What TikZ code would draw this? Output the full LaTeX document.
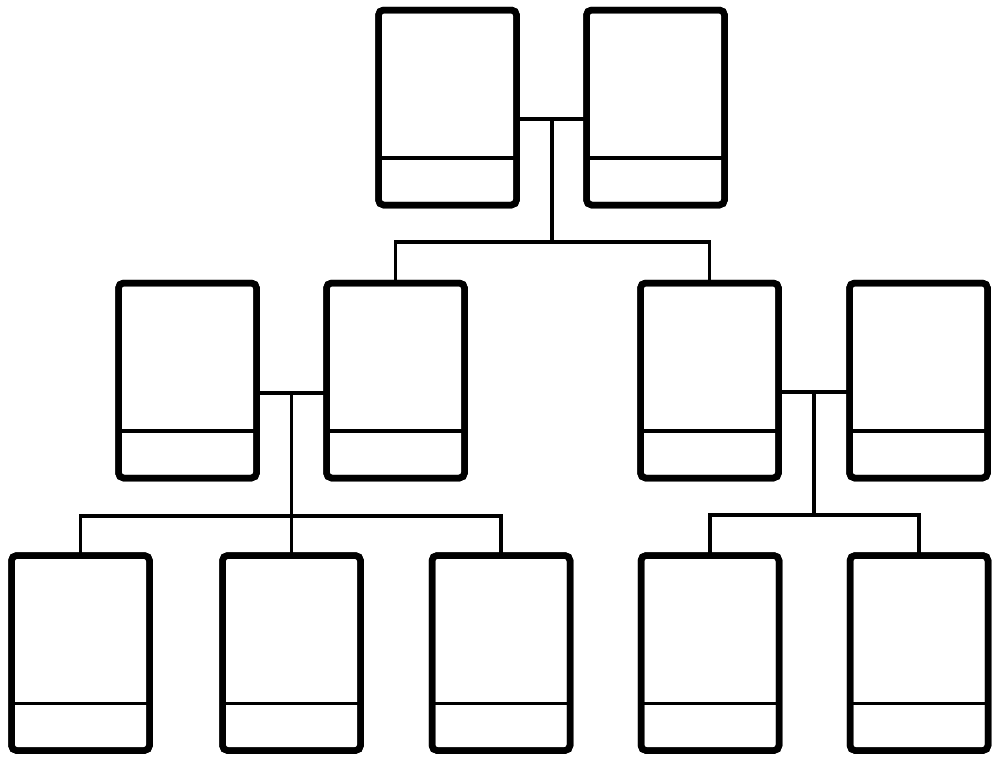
\documentclass[tikz,border=0pt]{standalone}
\begin{document}
\begin{tikzpicture}[x=1pt,y=-1pt,
  card/.style={draw=black, fill=white, line width=6.5pt, rounded corners=5pt,
    rectangle, minimum width=138pt, minimum height=195pt, inner sep=0pt, outer sep=0pt},
  link/.style={draw=black, line width=3.5pt},
  divider/.style={draw=black, line width=3.5pt}]
\useasboundingbox (0,0) rectangle (1000,761);
% top row
\node[card] (t1) at (447.5,107.5) {};
\node[card] (t2) at (655.5,107.5) {};
% middle row
\node[card] (m1) at (187.5,380.5) {};
\node[card] (m2) at (395.5,380.5) {};
\node[card] (m3) at (709.5,380.5) {};
\node[card] (m4) at (918.5,380.5) {};
% bottom row
\node[card] (b1) at (80.5,653) {};
\node[card] (b2) at (291.5,653) {};
\node[card] (b3) at (501,653) {};
\node[card] (b4) at (710,653) {};
\node[card] (b5) at (919,653) {};
% dividers
\foreach \n in {t1,t2,m1,m2,m3,m4,b1,b2,b3,b4,b5}{
  \draw[divider] ([yshift=47pt]\n.south west) -- ([yshift=47pt]\n.south east);
}
% connectors top
\coordinate (j1) at (552,119);
\coordinate (bus1) at (552,242);
\draw[link] (t1.east |- j1) -- (t2.west |- j1);
\draw[link] (j1) -- (bus1);
\draw[link] (m2.north) |- (bus1) -| (m3.north);
% connectors middle left
\coordinate (j2) at (291.5,393);
\coordinate (bus2) at (291.5,516);
\draw[link] (m1.east |- j2) -- (m2.west |- j2);
\draw[link] (j2) -- (b2.north);
\draw[link] (b1.north) |- (bus2) -| (b3.north);
% connectors middle right
\coordinate (j3) at (814,392);
\coordinate (bus3) at (814,515);
\draw[link] (m3.east |- j3) -- (m4.west |- j3);
\draw[link] (j3) -- (bus3);
\draw[link] (b4.north) |- (bus3) -| (b5.north);
% redraw cards on top of connectors
\foreach \n in {t1,t2,m1,m2,m3,m4,b1,b2,b3,b4,b5}{
  \draw[line width=6.5pt, rounded corners=5pt] (\n.south west) rectangle (\n.north east);
}
\end{tikzpicture}
\end{document}
